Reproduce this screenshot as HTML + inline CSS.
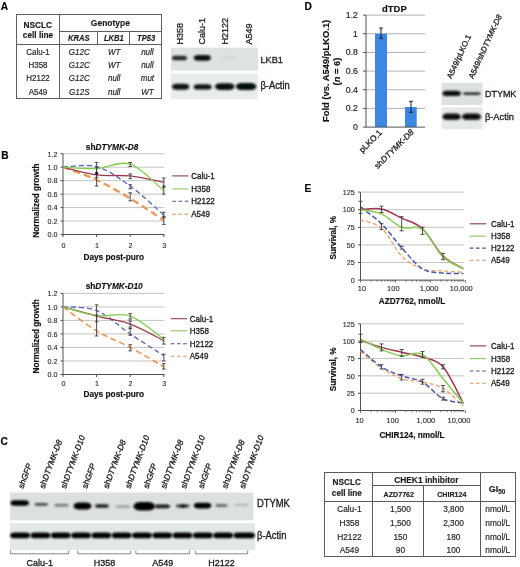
<!DOCTYPE html>
<html><head><meta charset="utf-8"><title>Figure</title>
<style>
html,body{margin:0;padding:0;background:#fff;width:520px;height:567px;overflow:hidden;}
svg{display:block;filter:blur(0.35px);}
text{font-family:"Liberation Sans", Arial, Helvetica, sans-serif;}
</style></head><body>
<svg width="520" height="567" viewBox="0 0 520 567">
<defs>
<filter id="b8" x="-30%" y="-100%" width="160%" height="300%"><feGaussianBlur stdDeviation="0.8"/></filter>
<filter id="b5" x="-30%" y="-100%" width="160%" height="300%"><feGaussianBlur stdDeviation="0.5"/></filter>
<filter id="b12" x="-30%" y="-100%" width="160%" height="300%"><feGaussianBlur stdDeviation="1.2"/></filter>
</defs>
<rect width="520" height="567" fill="#fff"/>
<text x="0.80" y="9.30" font-size="10.2" font-weight="bold" fill="#000" stroke="#000" stroke-width="0.15" transform="matrix(1 0 0 1.07 0 -0.394)">A</text>
<text x="1.20" y="158.90" font-size="10.2" font-weight="bold" fill="#000" stroke="#000" stroke-width="0.15" transform="matrix(1 0 0 1.07 0 -10.866)">B</text>
<text x="0.60" y="444.70" font-size="10.2" font-weight="bold" fill="#000" stroke="#000" stroke-width="0.15" transform="matrix(1 0 0 1.07 0 -30.872)">C</text>
<text x="304.50" y="9.60" font-size="10.2" font-weight="bold" fill="#000" stroke="#000" stroke-width="0.15" transform="matrix(1 0 0 1.07 0 -0.415)">D</text>
<text x="304.50" y="191.40" font-size="10.2" font-weight="bold" fill="#000" stroke="#000" stroke-width="0.15" transform="matrix(1 0 0 1.07 0 -13.141)">E</text>
<rect x="16.5" y="14.5" width="145" height="84" fill="none" stroke="#5e5e5e" stroke-width="1"/>
<line x1="59.50" y1="14.50" x2="59.50" y2="98.50" stroke="#5e5e5e" stroke-width="1" />
<line x1="59.50" y1="31.50" x2="161.50" y2="31.50" stroke="#5e5e5e" stroke-width="1" />
<line x1="16.50" y1="44.50" x2="161.50" y2="44.50" stroke="#5e5e5e" stroke-width="1" />
<line x1="97.50" y1="31.50" x2="97.50" y2="44.50" stroke="#5e5e5e" stroke-width="1" />
<line x1="129.50" y1="31.50" x2="129.50" y2="44.50" stroke="#5e5e5e" stroke-width="1" />
<text x="37.80" y="27.80" font-size="8.3" font-weight="bold" text-anchor="middle" fill="#1c1c1c" stroke="#1c1c1c" stroke-width="0.15" transform="matrix(1 0 0 1.07 0 -1.737)">NSCLC</text>
<text x="38.00" y="38.00" font-size="8.3" font-weight="bold" text-anchor="middle" fill="#1c1c1c" stroke="#1c1c1c" stroke-width="0.15" transform="matrix(1 0 0 1.07 0 -2.451)">cell line</text>
<text x="110.40" y="26.10" font-size="8.5" font-weight="bold" text-anchor="middle" fill="#1c1c1c" stroke="#1c1c1c" stroke-width="0.15" transform="matrix(1 0 0 1.07 0 -1.613)">Genotype</text>
<text x="78.70" y="40.80" font-size="7.6" font-weight="bold" font-style="italic" text-anchor="middle" fill="#1c1c1c" stroke="#1c1c1c" stroke-width="0.15" transform="matrix(1 0 0 1.07 0 -2.664)">KRAS</text>
<text x="113.80" y="40.80" font-size="7.6" font-weight="bold" font-style="italic" text-anchor="middle" fill="#1c1c1c" stroke="#1c1c1c" stroke-width="0.15" transform="matrix(1 0 0 1.07 0 -2.664)">LKB1</text>
<text x="146.20" y="40.80" font-size="7.6" font-weight="bold" font-style="italic" text-anchor="middle" fill="#1c1c1c" stroke="#1c1c1c" stroke-width="0.15" transform="matrix(1 0 0 1.07 0 -2.664)">TP53</text>
<text x="38.00" y="54.70" font-size="8" text-anchor="middle" fill="#262626" stroke="#262626" stroke-width="0.18" transform="matrix(1 0 0 1.07 0 -3.627)">Calu-1</text>
<text x="79.30" y="54.70" font-size="8" font-style="italic" text-anchor="middle" fill="#262626" stroke="#262626" stroke-width="0.18" transform="matrix(1 0 0 1.07 0 -3.627)">G12C</text>
<text x="114.20" y="54.70" font-size="8" font-style="italic" text-anchor="middle" fill="#262626" stroke="#262626" stroke-width="0.18" transform="matrix(1 0 0 1.07 0 -3.627)">WT</text>
<text x="147.40" y="54.70" font-size="8" font-style="italic" text-anchor="middle" fill="#262626" stroke="#262626" stroke-width="0.18" transform="matrix(1 0 0 1.07 0 -3.627)">null</text>
<text x="38.00" y="67.90" font-size="8" text-anchor="middle" fill="#262626" stroke="#262626" stroke-width="0.18" transform="matrix(1 0 0 1.07 0 -4.551)">H358</text>
<text x="79.30" y="67.90" font-size="8" font-style="italic" text-anchor="middle" fill="#262626" stroke="#262626" stroke-width="0.18" transform="matrix(1 0 0 1.07 0 -4.551)">G12C</text>
<text x="114.20" y="67.90" font-size="8" font-style="italic" text-anchor="middle" fill="#262626" stroke="#262626" stroke-width="0.18" transform="matrix(1 0 0 1.07 0 -4.551)">WT</text>
<text x="147.40" y="67.90" font-size="8" font-style="italic" text-anchor="middle" fill="#262626" stroke="#262626" stroke-width="0.18" transform="matrix(1 0 0 1.07 0 -4.551)">null</text>
<text x="38.00" y="81.20" font-size="8" text-anchor="middle" fill="#262626" stroke="#262626" stroke-width="0.18" transform="matrix(1 0 0 1.07 0 -5.482)">H2122</text>
<text x="79.30" y="81.20" font-size="8" font-style="italic" text-anchor="middle" fill="#262626" stroke="#262626" stroke-width="0.18" transform="matrix(1 0 0 1.07 0 -5.482)">G12C</text>
<text x="114.20" y="81.20" font-size="8" font-style="italic" text-anchor="middle" fill="#262626" stroke="#262626" stroke-width="0.18" transform="matrix(1 0 0 1.07 0 -5.482)">null</text>
<text x="147.40" y="81.20" font-size="8" font-style="italic" text-anchor="middle" fill="#262626" stroke="#262626" stroke-width="0.18" transform="matrix(1 0 0 1.07 0 -5.482)">mut</text>
<text x="38.00" y="94.60" font-size="8" text-anchor="middle" fill="#262626" stroke="#262626" stroke-width="0.18" transform="matrix(1 0 0 1.07 0 -6.420)">A549</text>
<text x="79.30" y="94.60" font-size="8" font-style="italic" text-anchor="middle" fill="#262626" stroke="#262626" stroke-width="0.18" transform="matrix(1 0 0 1.07 0 -6.420)">G12S</text>
<text x="114.20" y="94.60" font-size="8" font-style="italic" text-anchor="middle" fill="#262626" stroke="#262626" stroke-width="0.18" transform="matrix(1 0 0 1.07 0 -6.420)">null</text>
<text x="147.40" y="94.60" font-size="8" font-style="italic" text-anchor="middle" fill="#262626" stroke="#262626" stroke-width="0.18" transform="matrix(1 0 0 1.07 0 -6.420)">WT</text>
<text x="182.90" y="44.50" font-size="9.0" fill="#1c1c1c" stroke="#1c1c1c" stroke-width="0.3" transform="rotate(-90 182.90 44.50)">H358</text>
<text x="204.50" y="44.50" font-size="9.0" fill="#1c1c1c" stroke="#1c1c1c" stroke-width="0.3" transform="rotate(-90 204.50 44.50)">Calu-1</text>
<text x="228.40" y="44.50" font-size="9.0" fill="#1c1c1c" stroke="#1c1c1c" stroke-width="0.3" transform="rotate(-90 228.40 44.50)">H2122</text>
<text x="252.30" y="44.50" font-size="9.0" fill="#1c1c1c" stroke="#1c1c1c" stroke-width="0.3" transform="rotate(-90 252.30 44.50)">A549</text>
<rect x="171.00" y="47.60" width="87.00" height="23.00" fill="#dde3e1" />
<rect x="171.00" y="73.60" width="87.00" height="25.40" fill="#e8edeb" />
<rect x="172.00" y="55.70" width="15.00" height="4.60" rx="3.68" ry="2.30" fill="#151515" fill-opacity="0.92" filter="url(#b8)"/>
<rect x="193.80" y="54.90" width="17.00" height="5.80" rx="4.64" ry="2.90" fill="#0a0a0a" fill-opacity="1.0" filter="url(#b8)"/>
<rect x="222.00" y="56.50" width="14.00" height="3.00" rx="2.40" ry="1.50" fill="#888" fill-opacity="0.15" filter="url(#b8)"/>
<rect x="172.00" y="83.80" width="17.30" height="6.00" rx="4.80" ry="3.00" fill="#0e1414" fill-opacity="1.0" filter="url(#b8)"/>
<rect x="193.70" y="84.30" width="17.90" height="5.20" rx="4.16" ry="2.60" fill="#101616" fill-opacity="1.0" filter="url(#b8)"/>
<rect x="215.00" y="83.30" width="19.50" height="6.60" rx="5.28" ry="3.30" fill="#081010" fill-opacity="1.0" filter="url(#b8)"/>
<rect x="235.90" y="83.10" width="20.40" height="6.80" rx="5.44" ry="3.40" fill="#050c0c" fill-opacity="1.0" filter="url(#b8)"/>
<text x="260.40" y="63.20" font-size="9.2" fill="#1c1c1c" stroke="#1c1c1c" stroke-width="0.3" transform="matrix(1 0 0 1.07 0 -4.192)">LKB1</text>
<text x="260.40" y="88.80" font-size="9.4" fill="#1c1c1c" stroke="#1c1c1c" stroke-width="0.3" transform="matrix(1 0 0 1.07 0 -5.979)">β-Actin</text>
<line x1="366.00" y1="108.43" x2="425.20" y2="108.43" stroke="#b2b2b2" stroke-width="1" />
<line x1="366.00" y1="89.77" x2="425.20" y2="89.77" stroke="#b2b2b2" stroke-width="1" />
<line x1="366.00" y1="71.10" x2="425.20" y2="71.10" stroke="#b2b2b2" stroke-width="1" />
<line x1="366.00" y1="52.44" x2="425.20" y2="52.44" stroke="#b2b2b2" stroke-width="1" />
<line x1="366.00" y1="33.77" x2="425.20" y2="33.77" stroke="#b2b2b2" stroke-width="1" />
<line x1="366.00" y1="15.10" x2="425.20" y2="15.10" stroke="#b2b2b2" stroke-width="1" />
<rect x="375.00" y="33.77" width="12.00" height="93.33" fill="#3d87e4" />
<rect x="405.00" y="107.03" width="11.70" height="20.07" fill="#3d87e4" />
<line x1="366.00" y1="127.10" x2="425.20" y2="127.10" stroke="#505050" stroke-width="1" />
<line x1="366.00" y1="15.10" x2="366.00" y2="127.10" stroke="#505050" stroke-width="1" />
<line x1="363.00" y1="127.10" x2="366.00" y2="127.10" stroke="#505050" stroke-width="1" />
<text x="358.00" y="129.70" font-size="8.8" text-anchor="end" fill="#1c1c1c" stroke="#1c1c1c" stroke-width="0.15" transform="matrix(1 0 0 1.07 0 -8.857)">0</text>
<line x1="363.00" y1="108.43" x2="366.00" y2="108.43" stroke="#505050" stroke-width="1" />
<text x="358.00" y="111.03" font-size="8.8" text-anchor="end" fill="#1c1c1c" stroke="#1c1c1c" stroke-width="0.15" transform="matrix(1 0 0 1.07 0 -7.551)">0.2</text>
<line x1="363.00" y1="89.77" x2="366.00" y2="89.77" stroke="#505050" stroke-width="1" />
<text x="358.00" y="92.37" font-size="8.8" text-anchor="end" fill="#1c1c1c" stroke="#1c1c1c" stroke-width="0.15" transform="matrix(1 0 0 1.07 0 -6.244)">0.4</text>
<line x1="363.00" y1="71.10" x2="366.00" y2="71.10" stroke="#505050" stroke-width="1" />
<text x="358.00" y="73.70" font-size="8.8" text-anchor="end" fill="#1c1c1c" stroke="#1c1c1c" stroke-width="0.15" transform="matrix(1 0 0 1.07 0 -4.937)">0.6</text>
<line x1="363.00" y1="52.44" x2="366.00" y2="52.44" stroke="#505050" stroke-width="1" />
<text x="358.00" y="55.04" font-size="8.8" text-anchor="end" fill="#1c1c1c" stroke="#1c1c1c" stroke-width="0.15" transform="matrix(1 0 0 1.07 0 -3.631)">0.8</text>
<line x1="363.00" y1="33.77" x2="366.00" y2="33.77" stroke="#505050" stroke-width="1" />
<text x="358.00" y="36.37" font-size="8.8" text-anchor="end" fill="#1c1c1c" stroke="#1c1c1c" stroke-width="0.15" transform="matrix(1 0 0 1.07 0 -2.324)">1</text>
<line x1="363.00" y1="15.10" x2="366.00" y2="15.10" stroke="#505050" stroke-width="1" />
<text x="358.00" y="17.70" font-size="8.8" text-anchor="end" fill="#1c1c1c" stroke="#1c1c1c" stroke-width="0.15" transform="matrix(1 0 0 1.07 0 -1.018)">1.2</text>
<line x1="381.00" y1="28.00" x2="381.00" y2="38.40" stroke="#1e1e1e" stroke-width="1.0" />
<line x1="379.10" y1="28.00" x2="382.90" y2="28.00" stroke="#1e1e1e" stroke-width="1.0" />
<line x1="379.10" y1="38.40" x2="382.90" y2="38.40" stroke="#1e1e1e" stroke-width="1.0" />
<line x1="411.00" y1="101.30" x2="411.00" y2="112.30" stroke="#1e1e1e" stroke-width="1.0" />
<line x1="409.10" y1="101.30" x2="412.90" y2="101.30" stroke="#1e1e1e" stroke-width="1.0" />
<line x1="409.10" y1="112.30" x2="412.90" y2="112.30" stroke="#1e1e1e" stroke-width="1.0" />
<text x="394.40" y="11.80" font-size="8.8" font-weight="bold" text-anchor="middle" fill="#111" stroke="#111" stroke-width="0.15" textLength="24.6" lengthAdjust="spacingAndGlyphs">dTDP</text>
<text x="328.90" y="70.90" font-size="9.4" font-weight="bold" text-anchor="middle" fill="#111" stroke="#111" stroke-width="0.15" transform="rotate(-90 328.90 70.90)">Fold (vs. A549/pLKO.1)</text>
<text x="339.90" y="71.50" font-size="9.4" font-weight="bold" text-anchor="middle" fill="#111" stroke="#111" stroke-width="0.15" transform="rotate(-90 339.90 71.50)">(<tspan font-style="italic">n</tspan> = 6)</text>
<text x="382.60" y="133.20" font-size="8.4" text-anchor="end" fill="#1c1c1c" stroke="#1c1c1c" stroke-width="0.3" transform="rotate(-45 382.60 133.20)">pLKO.1</text>
<text x="414.40" y="132.80" font-size="8.4" text-anchor="end" fill="#1c1c1c" stroke="#1c1c1c" stroke-width="0.3" transform="rotate(-45 414.40 132.80)">sh<tspan font-style="italic">DTYMK-D8</tspan></text>
<text x="451.60" y="79.30" font-size="7.9" fill="#1c1c1c" stroke="#1c1c1c" stroke-width="0.3" transform="rotate(-65.5 451.60 79.30)">A549/pLKO.1</text>
<text x="473.30" y="79.30" font-size="7.9" fill="#1c1c1c" stroke="#1c1c1c" stroke-width="0.3" transform="rotate(-65.5 473.30 79.30)">A549/sh<tspan font-style="italic">DTYMK-D8</tspan></text>
<rect x="441.50" y="82.80" width="41.00" height="22.20" fill="#dce2e0" />
<rect x="441.50" y="107.40" width="41.00" height="22.00" fill="#e4e9e7" />
<rect x="442.50" y="90.70" width="18.30" height="5.20" rx="4.16" ry="2.60" fill="#080808" fill-opacity="1.0" filter="url(#b8)"/>
<rect x="463.00" y="92.50" width="17.50" height="2.20" rx="1.76" ry="1.10" fill="#0a0a0a" fill-opacity="0.95" filter="url(#b8)"/>
<rect x="442.50" y="113.60" width="18.30" height="6.20" rx="4.96" ry="3.10" fill="#080808" fill-opacity="1.0" filter="url(#b8)"/>
<rect x="462.00" y="113.60" width="19.00" height="6.20" rx="4.96" ry="3.10" fill="#080808" fill-opacity="1.0" filter="url(#b8)"/>
<text x="484.90" y="96.80" font-size="9" fill="#1c1c1c" stroke="#1c1c1c" stroke-width="0.3" transform="matrix(1 0 0 1.07 0 -6.549)">DTYMK</text>
<text x="484.90" y="120.00" font-size="9.3" fill="#1c1c1c" stroke="#1c1c1c" stroke-width="0.3" transform="matrix(1 0 0 1.07 0 -8.166)">β-Actin</text>
<line x1="63.00" y1="221.04" x2="164.50" y2="221.04" stroke="#c4c4c4" stroke-width="1" />
<line x1="63.00" y1="207.58" x2="164.50" y2="207.58" stroke="#c4c4c4" stroke-width="1" />
<line x1="63.00" y1="194.12" x2="164.50" y2="194.12" stroke="#c4c4c4" stroke-width="1" />
<line x1="63.00" y1="180.66" x2="164.50" y2="180.66" stroke="#c4c4c4" stroke-width="1" />
<line x1="63.00" y1="167.20" x2="164.50" y2="167.20" stroke="#c4c4c4" stroke-width="1" />
<line x1="63.00" y1="153.74" x2="164.50" y2="153.74" stroke="#c4c4c4" stroke-width="1" />
<line x1="63.00" y1="234.50" x2="164.50" y2="234.50" stroke="#505050" stroke-width="1" />
<line x1="63.00" y1="153.74" x2="63.00" y2="234.50" stroke="#505050" stroke-width="1" />
<line x1="60.50" y1="234.50" x2="63.00" y2="234.50" stroke="#505050" stroke-width="1" />
<text x="57.40" y="237.10" font-size="7.2" text-anchor="end" fill="#262626" stroke="#262626" stroke-width="0.1" transform="matrix(1 0 0 1.07 0 -16.416)">0.0</text>
<line x1="60.50" y1="221.04" x2="63.00" y2="221.04" stroke="#505050" stroke-width="1" />
<text x="57.40" y="223.64" font-size="7.2" text-anchor="end" fill="#262626" stroke="#262626" stroke-width="0.1" transform="matrix(1 0 0 1.07 0 -15.473)">0.2</text>
<line x1="60.50" y1="207.58" x2="63.00" y2="207.58" stroke="#505050" stroke-width="1" />
<text x="57.40" y="210.18" font-size="7.2" text-anchor="end" fill="#262626" stroke="#262626" stroke-width="0.1" transform="matrix(1 0 0 1.07 0 -14.531)">0.4</text>
<line x1="60.50" y1="194.12" x2="63.00" y2="194.12" stroke="#505050" stroke-width="1" />
<text x="57.40" y="196.72" font-size="7.2" text-anchor="end" fill="#262626" stroke="#262626" stroke-width="0.1" transform="matrix(1 0 0 1.07 0 -13.589)">0.6</text>
<line x1="60.50" y1="180.66" x2="63.00" y2="180.66" stroke="#505050" stroke-width="1" />
<text x="57.40" y="183.26" font-size="7.2" text-anchor="end" fill="#262626" stroke="#262626" stroke-width="0.1" transform="matrix(1 0 0 1.07 0 -12.647)">0.8</text>
<line x1="60.50" y1="167.20" x2="63.00" y2="167.20" stroke="#505050" stroke-width="1" />
<text x="57.40" y="169.80" font-size="7.2" text-anchor="end" fill="#262626" stroke="#262626" stroke-width="0.1" transform="matrix(1 0 0 1.07 0 -11.705)">1.0</text>
<line x1="60.50" y1="153.74" x2="63.00" y2="153.74" stroke="#505050" stroke-width="1" />
<text x="57.40" y="156.34" font-size="7.2" text-anchor="end" fill="#262626" stroke="#262626" stroke-width="0.1" transform="matrix(1 0 0 1.07 0 -10.762)">1.2</text>
<line x1="63.00" y1="234.50" x2="63.00" y2="237.00" stroke="#505050" stroke-width="1" />
<text x="63.40" y="247.50" font-size="7.2" text-anchor="middle" fill="#262626" stroke="#262626" stroke-width="0.1" transform="matrix(1 0 0 1.07 0 -17.144)">0</text>
<line x1="96.60" y1="234.50" x2="96.60" y2="237.00" stroke="#505050" stroke-width="1" />
<text x="97.00" y="247.50" font-size="7.2" text-anchor="middle" fill="#262626" stroke="#262626" stroke-width="0.1" transform="matrix(1 0 0 1.07 0 -17.144)">1</text>
<line x1="130.20" y1="234.50" x2="130.20" y2="237.00" stroke="#505050" stroke-width="1" />
<text x="130.60" y="247.50" font-size="7.2" text-anchor="middle" fill="#262626" stroke="#262626" stroke-width="0.1" transform="matrix(1 0 0 1.07 0 -17.144)">2</text>
<line x1="163.80" y1="234.50" x2="163.80" y2="237.00" stroke="#505050" stroke-width="1" />
<text x="164.20" y="247.50" font-size="7.2" text-anchor="middle" fill="#262626" stroke="#262626" stroke-width="0.1" transform="matrix(1 0 0 1.07 0 -17.144)">3</text>
<text x="113.80" y="260.10" font-size="8.3" font-weight="bold" text-anchor="middle" fill="#111" stroke="#111" stroke-width="0.15" transform="matrix(1 0 0 1.07 0 -17.998)">Days post-puro</text>
<text x="39.30" y="200.50" font-size="8.25" font-weight="bold" text-anchor="middle" fill="#111" stroke="#111" stroke-width="0.15" transform="rotate(-90 39.30 200.50)">Normalized growth</text>
<text x="112.10" y="149.54" font-size="8.3" font-weight="bold" text-anchor="middle" fill="#111" stroke="#111" stroke-width="0.15" transform="matrix(1 0 0 1.07 0 -10.259)">sh<tspan font-style="italic">DTYMK-D8</tspan></text>
<path d="M63.00,167.20 C68.60,169.33 85.40,174.77 96.60,179.99 C107.80,185.20 119.00,191.76 130.20,198.49 C141.40,205.22 158.20,216.72 163.80,220.37" fill="none" stroke="#ec9650" stroke-width="2.2" stroke-dasharray="7,4" stroke-linejoin="round" />
<path d="M63.00,167.20 C68.60,167.09 85.40,163.39 96.60,166.53 C107.80,169.67 119.00,177.97 130.20,186.04 C141.40,194.12 158.20,210.16 163.80,214.98" fill="none" stroke="#5563c4" stroke-width="1.3" stroke-dasharray="5,3" stroke-linejoin="round" />
<path d="M63.00,167.20 C68.60,168.49 85.40,173.48 96.60,174.94 C107.80,176.40 119.00,174.72 130.20,175.95 C141.40,177.18 158.20,181.28 163.80,182.34" fill="none" stroke="#9b3b4e" stroke-width="1.3" stroke-linejoin="round" />
<path d="M63.00,167.20 C68.60,167.42 85.40,169.05 96.60,168.55 C107.80,168.04 119.00,160.47 130.20,164.17 C141.40,167.87 158.20,186.32 163.80,190.75" fill="none" stroke="#86cc4c" stroke-width="1.3" stroke-linejoin="round" />
<line x1="96.60" y1="162.49" x2="96.60" y2="186.04" stroke="#3a3a3a" stroke-width="0.9" />
<line x1="94.80" y1="162.49" x2="98.40" y2="162.49" stroke="#3a3a3a" stroke-width="0.9" />
<line x1="94.80" y1="186.04" x2="98.40" y2="186.04" stroke="#3a3a3a" stroke-width="0.9" />
<line x1="96.60" y1="167.20" x2="96.60" y2="177.30" stroke="#3a3a3a" stroke-width="0.9" />
<line x1="94.80" y1="167.20" x2="98.40" y2="167.20" stroke="#3a3a3a" stroke-width="0.9" />
<line x1="94.80" y1="177.30" x2="98.40" y2="177.30" stroke="#3a3a3a" stroke-width="0.9" />
<line x1="130.20" y1="173.93" x2="130.20" y2="178.64" stroke="#3a3a3a" stroke-width="0.9" />
<line x1="128.40" y1="173.93" x2="132.00" y2="173.93" stroke="#3a3a3a" stroke-width="0.9" />
<line x1="128.40" y1="178.64" x2="132.00" y2="178.64" stroke="#3a3a3a" stroke-width="0.9" />
<line x1="130.20" y1="162.49" x2="130.20" y2="166.53" stroke="#3a3a3a" stroke-width="0.9" />
<line x1="128.40" y1="162.49" x2="132.00" y2="162.49" stroke="#3a3a3a" stroke-width="0.9" />
<line x1="128.40" y1="166.53" x2="132.00" y2="166.53" stroke="#3a3a3a" stroke-width="0.9" />
<line x1="130.20" y1="192.77" x2="130.20" y2="200.85" stroke="#3a3a3a" stroke-width="0.9" />
<line x1="128.40" y1="192.77" x2="132.00" y2="192.77" stroke="#3a3a3a" stroke-width="0.9" />
<line x1="128.40" y1="200.85" x2="132.00" y2="200.85" stroke="#3a3a3a" stroke-width="0.9" />
<line x1="130.20" y1="184.70" x2="130.20" y2="188.74" stroke="#3a3a3a" stroke-width="0.9" />
<line x1="128.40" y1="184.70" x2="132.00" y2="184.70" stroke="#3a3a3a" stroke-width="0.9" />
<line x1="128.40" y1="188.74" x2="132.00" y2="188.74" stroke="#3a3a3a" stroke-width="0.9" />
<line x1="163.80" y1="177.97" x2="163.80" y2="187.39" stroke="#3a3a3a" stroke-width="0.9" />
<line x1="162.00" y1="177.97" x2="165.60" y2="177.97" stroke="#3a3a3a" stroke-width="0.9" />
<line x1="162.00" y1="187.39" x2="165.60" y2="187.39" stroke="#3a3a3a" stroke-width="0.9" />
<line x1="163.80" y1="186.04" x2="163.80" y2="194.12" stroke="#3a3a3a" stroke-width="0.9" />
<line x1="162.00" y1="186.04" x2="165.60" y2="186.04" stroke="#3a3a3a" stroke-width="0.9" />
<line x1="162.00" y1="194.12" x2="165.60" y2="194.12" stroke="#3a3a3a" stroke-width="0.9" />
<line x1="163.80" y1="212.29" x2="163.80" y2="217.68" stroke="#3a3a3a" stroke-width="0.9" />
<line x1="162.00" y1="212.29" x2="165.60" y2="212.29" stroke="#3a3a3a" stroke-width="0.9" />
<line x1="162.00" y1="217.68" x2="165.60" y2="217.68" stroke="#3a3a3a" stroke-width="0.9" />
<line x1="163.80" y1="216.33" x2="163.80" y2="224.41" stroke="#3a3a3a" stroke-width="0.9" />
<line x1="162.00" y1="216.33" x2="165.60" y2="216.33" stroke="#3a3a3a" stroke-width="0.9" />
<line x1="162.00" y1="224.41" x2="165.60" y2="224.41" stroke="#3a3a3a" stroke-width="0.9" />
<circle cx="96.60" cy="173.26" r="1.6" fill="#1a1a1a"/>
<line x1="172.30" y1="175.90" x2="188.50" y2="175.90" stroke="#8e3a52" stroke-width="1.1" />
<text x="191.30" y="178.80" font-size="8" fill="#1c1c1c" stroke="#1c1c1c" stroke-width="0.3" transform="matrix(1 0 0 1.07 0 -12.314)">Calu-1</text>
<line x1="172.30" y1="188.90" x2="188.50" y2="188.90" stroke="#88cc58" stroke-width="1.1" />
<text x="191.30" y="191.80" font-size="8" fill="#1c1c1c" stroke="#1c1c1c" stroke-width="0.3" transform="matrix(1 0 0 1.07 0 -13.224)">H358</text>
<line x1="172.30" y1="201.30" x2="188.50" y2="201.30" stroke="#4a4f96" stroke-width="1.1" stroke-dasharray="3.6,2.6"/>
<text x="191.30" y="204.20" font-size="8" fill="#1c1c1c" stroke="#1c1c1c" stroke-width="0.3" transform="matrix(1 0 0 1.07 0 -14.092)">H2122</text>
<line x1="172.30" y1="214.30" x2="188.50" y2="214.30" stroke="#d8955c" stroke-width="1.1" stroke-dasharray="3.6,2.6"/>
<text x="191.30" y="217.20" font-size="8" fill="#1c1c1c" stroke="#1c1c1c" stroke-width="0.3" transform="matrix(1 0 0 1.07 0 -15.002)">A549</text>
<line x1="63.00" y1="360.98" x2="164.50" y2="360.98" stroke="#c4c4c4" stroke-width="1" />
<line x1="63.00" y1="347.46" x2="164.50" y2="347.46" stroke="#c4c4c4" stroke-width="1" />
<line x1="63.00" y1="333.94" x2="164.50" y2="333.94" stroke="#c4c4c4" stroke-width="1" />
<line x1="63.00" y1="320.42" x2="164.50" y2="320.42" stroke="#c4c4c4" stroke-width="1" />
<line x1="63.00" y1="306.90" x2="164.50" y2="306.90" stroke="#c4c4c4" stroke-width="1" />
<line x1="63.00" y1="293.38" x2="164.50" y2="293.38" stroke="#c4c4c4" stroke-width="1" />
<line x1="63.00" y1="374.50" x2="164.50" y2="374.50" stroke="#505050" stroke-width="1" />
<line x1="63.00" y1="293.38" x2="63.00" y2="374.50" stroke="#505050" stroke-width="1" />
<line x1="60.50" y1="374.50" x2="63.00" y2="374.50" stroke="#505050" stroke-width="1" />
<text x="57.40" y="377.10" font-size="7.2" text-anchor="end" fill="#262626" stroke="#262626" stroke-width="0.1" transform="matrix(1 0 0 1.07 0 -26.216)">0.0</text>
<line x1="60.50" y1="360.98" x2="63.00" y2="360.98" stroke="#505050" stroke-width="1" />
<text x="57.40" y="363.58" font-size="7.2" text-anchor="end" fill="#262626" stroke="#262626" stroke-width="0.1" transform="matrix(1 0 0 1.07 0 -25.269)">0.2</text>
<line x1="60.50" y1="347.46" x2="63.00" y2="347.46" stroke="#505050" stroke-width="1" />
<text x="57.40" y="350.06" font-size="7.2" text-anchor="end" fill="#262626" stroke="#262626" stroke-width="0.1" transform="matrix(1 0 0 1.07 0 -24.323)">0.4</text>
<line x1="60.50" y1="333.94" x2="63.00" y2="333.94" stroke="#505050" stroke-width="1" />
<text x="57.40" y="336.54" font-size="7.2" text-anchor="end" fill="#262626" stroke="#262626" stroke-width="0.1" transform="matrix(1 0 0 1.07 0 -23.376)">0.6</text>
<line x1="60.50" y1="320.42" x2="63.00" y2="320.42" stroke="#505050" stroke-width="1" />
<text x="57.40" y="323.02" font-size="7.2" text-anchor="end" fill="#262626" stroke="#262626" stroke-width="0.1" transform="matrix(1 0 0 1.07 0 -22.430)">0.8</text>
<line x1="60.50" y1="306.90" x2="63.00" y2="306.90" stroke="#505050" stroke-width="1" />
<text x="57.40" y="309.50" font-size="7.2" text-anchor="end" fill="#262626" stroke="#262626" stroke-width="0.1" transform="matrix(1 0 0 1.07 0 -21.484)">1.0</text>
<line x1="60.50" y1="293.38" x2="63.00" y2="293.38" stroke="#505050" stroke-width="1" />
<text x="57.40" y="295.98" font-size="7.2" text-anchor="end" fill="#262626" stroke="#262626" stroke-width="0.1" transform="matrix(1 0 0 1.07 0 -20.537)">1.2</text>
<line x1="63.00" y1="374.50" x2="63.00" y2="377.00" stroke="#505050" stroke-width="1" />
<text x="63.40" y="385.90" font-size="7.2" text-anchor="middle" fill="#262626" stroke="#262626" stroke-width="0.1" transform="matrix(1 0 0 1.07 0 -26.832)">0</text>
<line x1="96.60" y1="374.50" x2="96.60" y2="377.00" stroke="#505050" stroke-width="1" />
<text x="97.00" y="385.90" font-size="7.2" text-anchor="middle" fill="#262626" stroke="#262626" stroke-width="0.1" transform="matrix(1 0 0 1.07 0 -26.832)">1</text>
<line x1="130.20" y1="374.50" x2="130.20" y2="377.00" stroke="#505050" stroke-width="1" />
<text x="130.60" y="385.90" font-size="7.2" text-anchor="middle" fill="#262626" stroke="#262626" stroke-width="0.1" transform="matrix(1 0 0 1.07 0 -26.832)">2</text>
<line x1="163.80" y1="374.50" x2="163.80" y2="377.00" stroke="#505050" stroke-width="1" />
<text x="164.20" y="385.90" font-size="7.2" text-anchor="middle" fill="#262626" stroke="#262626" stroke-width="0.1" transform="matrix(1 0 0 1.07 0 -26.832)">3</text>
<text x="113.80" y="396.60" font-size="8.3" font-weight="bold" text-anchor="middle" fill="#111" stroke="#111" stroke-width="0.15" transform="matrix(1 0 0 1.07 0 -27.553)">Days post-puro</text>
<text x="39.30" y="336.30" font-size="8.25" font-weight="bold" text-anchor="middle" fill="#111" stroke="#111" stroke-width="0.15" transform="rotate(-90 39.30 336.30)">Normalized growth</text>
<text x="114.20" y="289.18" font-size="8.3" font-weight="bold" text-anchor="middle" fill="#111" stroke="#111" stroke-width="0.15" transform="matrix(1 0 0 1.07 0 -20.033)">sh<tspan font-style="italic">DTYMK-D10</tspan></text>
<path d="M63.00,306.90 C68.60,310.90 85.40,324.14 96.60,330.90 C107.80,337.66 119.00,341.49 130.20,347.46 C141.40,353.43 158.20,363.51 163.80,366.73" fill="none" stroke="#ec9650" stroke-width="1.6" stroke-dasharray="6,3.5" stroke-linejoin="round" />
<path d="M63.00,306.90 C68.60,307.52 85.40,306.11 96.60,310.62 C107.80,315.12 119.00,326.45 130.20,333.94 C141.40,341.43 158.20,351.97 163.80,355.57" fill="none" stroke="#5563c4" stroke-width="1.3" stroke-dasharray="5,3" stroke-linejoin="round" />
<path d="M63.00,306.90 C68.60,308.42 85.40,313.15 96.60,316.03 C107.80,318.90 119.00,320.03 130.20,324.14 C141.40,328.25 158.20,337.94 163.80,340.70" fill="none" stroke="#9b3b4e" stroke-width="1.3" stroke-linejoin="round" />
<path d="M63.00,306.90 C68.60,308.36 85.40,314.17 96.60,315.69 C107.80,317.21 119.00,312.08 130.20,316.03 C141.40,319.97 158.20,335.46 163.80,339.35" fill="none" stroke="#86cc4c" stroke-width="1.3" stroke-linejoin="round" />
<line x1="96.60" y1="304.87" x2="96.60" y2="335.97" stroke="#3a3a3a" stroke-width="0.9" />
<line x1="94.80" y1="304.87" x2="98.40" y2="304.87" stroke="#3a3a3a" stroke-width="0.9" />
<line x1="94.80" y1="335.97" x2="98.40" y2="335.97" stroke="#3a3a3a" stroke-width="0.9" />
<line x1="96.60" y1="315.01" x2="96.60" y2="321.77" stroke="#3a3a3a" stroke-width="0.9" />
<line x1="94.80" y1="315.01" x2="98.40" y2="315.01" stroke="#3a3a3a" stroke-width="0.9" />
<line x1="94.80" y1="321.77" x2="98.40" y2="321.77" stroke="#3a3a3a" stroke-width="0.9" />
<line x1="130.20" y1="313.66" x2="130.20" y2="319.07" stroke="#3a3a3a" stroke-width="0.9" />
<line x1="128.40" y1="313.66" x2="132.00" y2="313.66" stroke="#3a3a3a" stroke-width="0.9" />
<line x1="128.40" y1="319.07" x2="132.00" y2="319.07" stroke="#3a3a3a" stroke-width="0.9" />
<line x1="130.20" y1="321.10" x2="130.20" y2="327.18" stroke="#3a3a3a" stroke-width="0.9" />
<line x1="128.40" y1="321.10" x2="132.00" y2="321.10" stroke="#3a3a3a" stroke-width="0.9" />
<line x1="128.40" y1="327.18" x2="132.00" y2="327.18" stroke="#3a3a3a" stroke-width="0.9" />
<line x1="130.20" y1="328.53" x2="130.20" y2="335.29" stroke="#3a3a3a" stroke-width="0.9" />
<line x1="128.40" y1="328.53" x2="132.00" y2="328.53" stroke="#3a3a3a" stroke-width="0.9" />
<line x1="128.40" y1="335.29" x2="132.00" y2="335.29" stroke="#3a3a3a" stroke-width="0.9" />
<line x1="130.20" y1="344.76" x2="130.20" y2="350.84" stroke="#3a3a3a" stroke-width="0.9" />
<line x1="128.40" y1="344.76" x2="132.00" y2="344.76" stroke="#3a3a3a" stroke-width="0.9" />
<line x1="128.40" y1="350.84" x2="132.00" y2="350.84" stroke="#3a3a3a" stroke-width="0.9" />
<line x1="163.80" y1="337.32" x2="163.80" y2="344.08" stroke="#3a3a3a" stroke-width="0.9" />
<line x1="162.00" y1="337.32" x2="165.60" y2="337.32" stroke="#3a3a3a" stroke-width="0.9" />
<line x1="162.00" y1="344.08" x2="165.60" y2="344.08" stroke="#3a3a3a" stroke-width="0.9" />
<line x1="163.80" y1="354.22" x2="163.80" y2="360.98" stroke="#3a3a3a" stroke-width="0.9" />
<line x1="162.00" y1="354.22" x2="165.60" y2="354.22" stroke="#3a3a3a" stroke-width="0.9" />
<line x1="162.00" y1="360.98" x2="165.60" y2="360.98" stroke="#3a3a3a" stroke-width="0.9" />
<line x1="163.80" y1="363.68" x2="163.80" y2="369.09" stroke="#3a3a3a" stroke-width="0.9" />
<line x1="162.00" y1="363.68" x2="165.60" y2="363.68" stroke="#3a3a3a" stroke-width="0.9" />
<line x1="162.00" y1="369.09" x2="165.60" y2="369.09" stroke="#3a3a3a" stroke-width="0.9" />
<line x1="170.80" y1="318.70" x2="187.00" y2="318.70" stroke="#8e3a52" stroke-width="1.1" />
<text x="189.80" y="321.60" font-size="8" fill="#1c1c1c" stroke="#1c1c1c" stroke-width="0.3" transform="matrix(1 0 0 1.07 0 -22.310)">Calu-1</text>
<line x1="170.80" y1="330.80" x2="187.00" y2="330.80" stroke="#88cc58" stroke-width="1.1" />
<text x="189.80" y="333.70" font-size="8" fill="#1c1c1c" stroke="#1c1c1c" stroke-width="0.3" transform="matrix(1 0 0 1.07 0 -23.157)">H358</text>
<line x1="170.80" y1="343.80" x2="187.00" y2="343.80" stroke="#4a4f96" stroke-width="1.1" stroke-dasharray="3.6,2.6"/>
<text x="189.80" y="346.70" font-size="8" fill="#1c1c1c" stroke="#1c1c1c" stroke-width="0.3" transform="matrix(1 0 0 1.07 0 -24.067)">H2122</text>
<line x1="170.80" y1="356.30" x2="187.00" y2="356.30" stroke="#d8955c" stroke-width="1.1" stroke-dasharray="3.6,2.6"/>
<text x="189.80" y="359.20" font-size="8" fill="#1c1c1c" stroke="#1c1c1c" stroke-width="0.3" transform="matrix(1 0 0 1.07 0 -24.942)">A549</text>
<line x1="360.50" y1="262.50" x2="464.00" y2="262.50" stroke="#c4c4c4" stroke-width="1" />
<line x1="360.50" y1="244.90" x2="464.00" y2="244.90" stroke="#c4c4c4" stroke-width="1" />
<line x1="360.50" y1="227.30" x2="464.00" y2="227.30" stroke="#c4c4c4" stroke-width="1" />
<line x1="360.50" y1="209.70" x2="464.00" y2="209.70" stroke="#c4c4c4" stroke-width="1" />
<line x1="360.50" y1="192.10" x2="464.00" y2="192.10" stroke="#c4c4c4" stroke-width="1" />
<line x1="360.50" y1="280.10" x2="464.00" y2="280.10" stroke="#505050" stroke-width="1" />
<line x1="360.50" y1="192.10" x2="360.50" y2="280.10" stroke="#505050" stroke-width="1" />
<line x1="358.00" y1="280.10" x2="360.50" y2="280.10" stroke="#505050" stroke-width="1" />
<text x="354.80" y="282.70" font-size="7.2" text-anchor="end" fill="#262626" stroke="#262626" stroke-width="0.1" transform="matrix(1 0 0 1.07 0 -19.608)">0</text>
<line x1="358.00" y1="262.50" x2="360.50" y2="262.50" stroke="#505050" stroke-width="1" />
<text x="354.80" y="265.10" font-size="7.2" text-anchor="end" fill="#262626" stroke="#262626" stroke-width="0.1" transform="matrix(1 0 0 1.07 0 -18.376)">25</text>
<line x1="358.00" y1="244.90" x2="360.50" y2="244.90" stroke="#505050" stroke-width="1" />
<text x="354.80" y="247.50" font-size="7.2" text-anchor="end" fill="#262626" stroke="#262626" stroke-width="0.1" transform="matrix(1 0 0 1.07 0 -17.144)">50</text>
<line x1="358.00" y1="227.30" x2="360.50" y2="227.30" stroke="#505050" stroke-width="1" />
<text x="354.80" y="229.90" font-size="7.2" text-anchor="end" fill="#262626" stroke="#262626" stroke-width="0.1" transform="matrix(1 0 0 1.07 0 -15.912)">75</text>
<line x1="358.00" y1="209.70" x2="360.50" y2="209.70" stroke="#505050" stroke-width="1" />
<text x="354.80" y="212.30" font-size="7.2" text-anchor="end" fill="#262626" stroke="#262626" stroke-width="0.1" transform="matrix(1 0 0 1.07 0 -14.680)">100</text>
<line x1="358.00" y1="192.10" x2="360.50" y2="192.10" stroke="#505050" stroke-width="1" />
<text x="354.80" y="194.70" font-size="7.2" text-anchor="end" fill="#262626" stroke="#262626" stroke-width="0.1" transform="matrix(1 0 0 1.07 0 -13.448)">125</text>
<line x1="360.50" y1="280.10" x2="360.50" y2="282.60" stroke="#505050" stroke-width="0.8" />
<line x1="371.04" y1="280.10" x2="371.04" y2="281.70" stroke="#505050" stroke-width="0.8" />
<line x1="377.20" y1="280.10" x2="377.20" y2="281.70" stroke="#505050" stroke-width="0.8" />
<line x1="381.57" y1="280.10" x2="381.57" y2="281.70" stroke="#505050" stroke-width="0.8" />
<line x1="384.96" y1="280.10" x2="384.96" y2="281.70" stroke="#505050" stroke-width="0.8" />
<line x1="387.74" y1="280.10" x2="387.74" y2="281.70" stroke="#505050" stroke-width="0.8" />
<line x1="390.08" y1="280.10" x2="390.08" y2="281.70" stroke="#505050" stroke-width="0.8" />
<line x1="392.11" y1="280.10" x2="392.11" y2="281.70" stroke="#505050" stroke-width="0.8" />
<line x1="393.90" y1="280.10" x2="393.90" y2="281.70" stroke="#505050" stroke-width="0.8" />
<line x1="395.50" y1="280.10" x2="395.50" y2="282.60" stroke="#505050" stroke-width="0.8" />
<line x1="406.04" y1="280.10" x2="406.04" y2="281.70" stroke="#505050" stroke-width="0.8" />
<line x1="412.20" y1="280.10" x2="412.20" y2="281.70" stroke="#505050" stroke-width="0.8" />
<line x1="416.57" y1="280.10" x2="416.57" y2="281.70" stroke="#505050" stroke-width="0.8" />
<line x1="419.96" y1="280.10" x2="419.96" y2="281.70" stroke="#505050" stroke-width="0.8" />
<line x1="422.74" y1="280.10" x2="422.74" y2="281.70" stroke="#505050" stroke-width="0.8" />
<line x1="425.08" y1="280.10" x2="425.08" y2="281.70" stroke="#505050" stroke-width="0.8" />
<line x1="427.11" y1="280.10" x2="427.11" y2="281.70" stroke="#505050" stroke-width="0.8" />
<line x1="428.90" y1="280.10" x2="428.90" y2="281.70" stroke="#505050" stroke-width="0.8" />
<line x1="430.50" y1="280.10" x2="430.50" y2="282.60" stroke="#505050" stroke-width="0.8" />
<line x1="441.04" y1="280.10" x2="441.04" y2="281.70" stroke="#505050" stroke-width="0.8" />
<line x1="447.20" y1="280.10" x2="447.20" y2="281.70" stroke="#505050" stroke-width="0.8" />
<line x1="451.57" y1="280.10" x2="451.57" y2="281.70" stroke="#505050" stroke-width="0.8" />
<line x1="454.96" y1="280.10" x2="454.96" y2="281.70" stroke="#505050" stroke-width="0.8" />
<line x1="457.74" y1="280.10" x2="457.74" y2="281.70" stroke="#505050" stroke-width="0.8" />
<line x1="460.08" y1="280.10" x2="460.08" y2="281.70" stroke="#505050" stroke-width="0.8" />
<line x1="462.11" y1="280.10" x2="462.11" y2="281.70" stroke="#505050" stroke-width="0.8" />
<line x1="463.90" y1="280.10" x2="463.90" y2="281.70" stroke="#505050" stroke-width="0.8" />
<line x1="465.50" y1="280.10" x2="465.50" y2="282.60" stroke="#505050" stroke-width="0.8" />
<text x="361.90" y="291.10" font-size="7.5" text-anchor="middle" fill="#262626" stroke="#262626" stroke-width="0.1" transform="matrix(1 0 0 1.07 0 -20.188)">10</text>
<text x="393.30" y="291.10" font-size="7.5" text-anchor="middle" fill="#262626" stroke="#262626" stroke-width="0.1" transform="matrix(1 0 0 1.07 0 -20.188)">100</text>
<text x="429.10" y="291.10" font-size="7.5" text-anchor="middle" fill="#262626" stroke="#262626" stroke-width="0.1" transform="matrix(1 0 0 1.07 0 -20.188)">1,000</text>
<text x="461.30" y="291.10" font-size="7.5" text-anchor="middle" fill="#262626" stroke="#262626" stroke-width="0.1" transform="matrix(1 0 0 1.07 0 -20.188)">10,000</text>
<text x="412.00" y="303.70" font-size="8.2" font-weight="bold" text-anchor="middle" fill="#111" stroke="#111" stroke-width="0.15" transform="matrix(1 0 0 1.07 0 -21.052)">AZD7762, nmol/L</text>
<text x="335.90" y="237.70" font-size="8.2" font-weight="bold" text-anchor="middle" fill="#111" stroke="#111" stroke-width="0.15" transform="rotate(-90 335.90 237.70)">Survival, %</text>
<path d="M360.50,220.26 C364.00,221.55 374.63,222.02 381.50,228.00 C388.37,233.99 394.87,249.36 401.70,256.16 C408.53,262.97 415.62,266.37 422.50,268.84 C429.38,271.30 436.17,270.36 443.00,270.95 C449.83,271.53 460.08,272.12 463.50,272.36" fill="none" stroke="#eea060" stroke-width="1.3" stroke-dasharray="4,2.5" stroke-linejoin="round" />
<path d="M360.50,206.88 C364.00,209.70 374.63,216.97 381.50,223.78 C388.37,230.59 394.87,240.21 401.70,247.72 C408.53,255.23 415.62,264.61 422.50,268.84 C429.38,273.06 436.17,272.30 443.00,273.06 C449.83,273.82 460.08,273.35 463.50,273.41" fill="none" stroke="#4a56ac" stroke-width="1.5" stroke-dasharray="5,2.5" stroke-linejoin="round" />
<path d="M360.50,209.70 C364.00,209.58 374.63,207.59 381.50,209.00 C388.37,210.40 394.87,214.86 401.70,218.15 C408.53,221.43 415.62,222.37 422.50,228.71 C429.38,235.04 436.17,249.48 443.00,256.16 C449.83,262.85 460.08,266.72 463.50,268.84" fill="none" stroke="#a0344e" stroke-width="1.5" stroke-linejoin="round" />
<path d="M360.50,209.70 C364.00,210.40 374.63,210.99 381.50,213.92 C388.37,216.86 394.87,224.72 401.70,227.30 C408.53,229.88 415.62,224.48 422.50,229.41 C429.38,234.34 436.17,250.30 443.00,256.87 C449.83,263.44 460.08,266.84 463.50,268.84" fill="none" stroke="#88cc50" stroke-width="1.5" stroke-linejoin="round" />
<line x1="360.50" y1="201.25" x2="360.50" y2="213.22" stroke="#3a3a3a" stroke-width="0.9" />
<line x1="358.50" y1="201.25" x2="362.50" y2="201.25" stroke="#3a3a3a" stroke-width="0.9" />
<line x1="358.50" y1="213.22" x2="362.50" y2="213.22" stroke="#3a3a3a" stroke-width="0.9" />
<line x1="381.50" y1="206.18" x2="381.50" y2="212.52" stroke="#3a3a3a" stroke-width="0.9" />
<line x1="379.50" y1="206.18" x2="383.50" y2="206.18" stroke="#3a3a3a" stroke-width="0.9" />
<line x1="379.50" y1="212.52" x2="383.50" y2="212.52" stroke="#3a3a3a" stroke-width="0.9" />
<line x1="381.50" y1="223.78" x2="381.50" y2="229.41" stroke="#3a3a3a" stroke-width="0.9" />
<line x1="379.50" y1="223.78" x2="383.50" y2="223.78" stroke="#3a3a3a" stroke-width="0.9" />
<line x1="379.50" y1="229.41" x2="383.50" y2="229.41" stroke="#3a3a3a" stroke-width="0.9" />
<line x1="401.70" y1="216.74" x2="401.70" y2="230.82" stroke="#3a3a3a" stroke-width="0.9" />
<line x1="399.70" y1="216.74" x2="403.70" y2="216.74" stroke="#3a3a3a" stroke-width="0.9" />
<line x1="399.70" y1="230.82" x2="403.70" y2="230.82" stroke="#3a3a3a" stroke-width="0.9" />
<line x1="422.50" y1="227.30" x2="422.50" y2="234.34" stroke="#3a3a3a" stroke-width="0.9" />
<line x1="420.50" y1="227.30" x2="424.50" y2="227.30" stroke="#3a3a3a" stroke-width="0.9" />
<line x1="420.50" y1="234.34" x2="424.50" y2="234.34" stroke="#3a3a3a" stroke-width="0.9" />
<line x1="443.00" y1="253.35" x2="443.00" y2="259.68" stroke="#3a3a3a" stroke-width="0.9" />
<line x1="441.00" y1="253.35" x2="445.00" y2="253.35" stroke="#3a3a3a" stroke-width="0.9" />
<line x1="441.00" y1="259.68" x2="445.00" y2="259.68" stroke="#3a3a3a" stroke-width="0.9" />
<line x1="401.70" y1="246.31" x2="401.70" y2="249.12" stroke="#3a3a3a" stroke-width="0.9" />
<line x1="399.70" y1="246.31" x2="403.70" y2="246.31" stroke="#3a3a3a" stroke-width="0.9" />
<line x1="399.70" y1="249.12" x2="403.70" y2="249.12" stroke="#3a3a3a" stroke-width="0.9" />
<line x1="469.80" y1="223.80" x2="486.20" y2="223.80" stroke="#8e3a52" stroke-width="1.1" />
<text x="491.00" y="226.70" font-size="8" fill="#1c1c1c" stroke="#1c1c1c" stroke-width="0.3" transform="matrix(1 0 0 1.07 0 -15.667)">Calu-1</text>
<line x1="469.80" y1="236.20" x2="486.20" y2="236.20" stroke="#88cc58" stroke-width="1.1" />
<text x="491.00" y="239.10" font-size="8" fill="#1c1c1c" stroke="#1c1c1c" stroke-width="0.3" transform="matrix(1 0 0 1.07 0 -16.535)">H358</text>
<line x1="469.80" y1="248.10" x2="486.20" y2="248.10" stroke="#4a4f96" stroke-width="1.1" stroke-dasharray="3.6,2.6"/>
<text x="491.00" y="251.00" font-size="8" fill="#1c1c1c" stroke="#1c1c1c" stroke-width="0.3" transform="matrix(1 0 0 1.07 0 -17.368)">H2122</text>
<line x1="469.80" y1="260.30" x2="486.20" y2="260.30" stroke="#d8955c" stroke-width="1.1" stroke-dasharray="3.6,2.6"/>
<text x="491.00" y="263.20" font-size="8" fill="#1c1c1c" stroke="#1c1c1c" stroke-width="0.3" transform="matrix(1 0 0 1.07 0 -18.222)">A549</text>
<line x1="360.50" y1="393.16" x2="464.00" y2="393.16" stroke="#c4c4c4" stroke-width="1" />
<line x1="360.50" y1="375.82" x2="464.00" y2="375.82" stroke="#c4c4c4" stroke-width="1" />
<line x1="360.50" y1="358.48" x2="464.00" y2="358.48" stroke="#c4c4c4" stroke-width="1" />
<line x1="360.50" y1="341.14" x2="464.00" y2="341.14" stroke="#c4c4c4" stroke-width="1" />
<line x1="360.50" y1="323.80" x2="464.00" y2="323.80" stroke="#c4c4c4" stroke-width="1" />
<line x1="360.50" y1="410.50" x2="464.00" y2="410.50" stroke="#505050" stroke-width="1" />
<line x1="360.50" y1="323.80" x2="360.50" y2="410.50" stroke="#505050" stroke-width="1" />
<line x1="358.00" y1="410.50" x2="360.50" y2="410.50" stroke="#505050" stroke-width="1" />
<text x="354.80" y="413.10" font-size="7.2" text-anchor="end" fill="#262626" stroke="#262626" stroke-width="0.1" transform="matrix(1 0 0 1.07 0 -28.736)">0</text>
<line x1="358.00" y1="393.16" x2="360.50" y2="393.16" stroke="#505050" stroke-width="1" />
<text x="354.80" y="395.76" font-size="7.2" text-anchor="end" fill="#262626" stroke="#262626" stroke-width="0.1" transform="matrix(1 0 0 1.07 0 -27.522)">25</text>
<line x1="358.00" y1="375.82" x2="360.50" y2="375.82" stroke="#505050" stroke-width="1" />
<text x="354.80" y="378.42" font-size="7.2" text-anchor="end" fill="#262626" stroke="#262626" stroke-width="0.1" transform="matrix(1 0 0 1.07 0 -26.308)">50</text>
<line x1="358.00" y1="358.48" x2="360.50" y2="358.48" stroke="#505050" stroke-width="1" />
<text x="354.80" y="361.08" font-size="7.2" text-anchor="end" fill="#262626" stroke="#262626" stroke-width="0.1" transform="matrix(1 0 0 1.07 0 -25.094)">75</text>
<line x1="358.00" y1="341.14" x2="360.50" y2="341.14" stroke="#505050" stroke-width="1" />
<text x="354.80" y="343.74" font-size="7.2" text-anchor="end" fill="#262626" stroke="#262626" stroke-width="0.1" transform="matrix(1 0 0 1.07 0 -23.880)">100</text>
<line x1="358.00" y1="323.80" x2="360.50" y2="323.80" stroke="#505050" stroke-width="1" />
<text x="354.80" y="326.40" font-size="7.2" text-anchor="end" fill="#262626" stroke="#262626" stroke-width="0.1" transform="matrix(1 0 0 1.07 0 -22.667)">125</text>
<line x1="360.50" y1="410.50" x2="360.50" y2="413.00" stroke="#505050" stroke-width="0.8" />
<line x1="371.04" y1="410.50" x2="371.04" y2="412.10" stroke="#505050" stroke-width="0.8" />
<line x1="377.20" y1="410.50" x2="377.20" y2="412.10" stroke="#505050" stroke-width="0.8" />
<line x1="381.57" y1="410.50" x2="381.57" y2="412.10" stroke="#505050" stroke-width="0.8" />
<line x1="384.96" y1="410.50" x2="384.96" y2="412.10" stroke="#505050" stroke-width="0.8" />
<line x1="387.74" y1="410.50" x2="387.74" y2="412.10" stroke="#505050" stroke-width="0.8" />
<line x1="390.08" y1="410.50" x2="390.08" y2="412.10" stroke="#505050" stroke-width="0.8" />
<line x1="392.11" y1="410.50" x2="392.11" y2="412.10" stroke="#505050" stroke-width="0.8" />
<line x1="393.90" y1="410.50" x2="393.90" y2="412.10" stroke="#505050" stroke-width="0.8" />
<line x1="395.50" y1="410.50" x2="395.50" y2="413.00" stroke="#505050" stroke-width="0.8" />
<line x1="406.04" y1="410.50" x2="406.04" y2="412.10" stroke="#505050" stroke-width="0.8" />
<line x1="412.20" y1="410.50" x2="412.20" y2="412.10" stroke="#505050" stroke-width="0.8" />
<line x1="416.57" y1="410.50" x2="416.57" y2="412.10" stroke="#505050" stroke-width="0.8" />
<line x1="419.96" y1="410.50" x2="419.96" y2="412.10" stroke="#505050" stroke-width="0.8" />
<line x1="422.74" y1="410.50" x2="422.74" y2="412.10" stroke="#505050" stroke-width="0.8" />
<line x1="425.08" y1="410.50" x2="425.08" y2="412.10" stroke="#505050" stroke-width="0.8" />
<line x1="427.11" y1="410.50" x2="427.11" y2="412.10" stroke="#505050" stroke-width="0.8" />
<line x1="428.90" y1="410.50" x2="428.90" y2="412.10" stroke="#505050" stroke-width="0.8" />
<line x1="430.50" y1="410.50" x2="430.50" y2="413.00" stroke="#505050" stroke-width="0.8" />
<line x1="441.04" y1="410.50" x2="441.04" y2="412.10" stroke="#505050" stroke-width="0.8" />
<line x1="447.20" y1="410.50" x2="447.20" y2="412.10" stroke="#505050" stroke-width="0.8" />
<line x1="451.57" y1="410.50" x2="451.57" y2="412.10" stroke="#505050" stroke-width="0.8" />
<line x1="454.96" y1="410.50" x2="454.96" y2="412.10" stroke="#505050" stroke-width="0.8" />
<line x1="457.74" y1="410.50" x2="457.74" y2="412.10" stroke="#505050" stroke-width="0.8" />
<line x1="460.08" y1="410.50" x2="460.08" y2="412.10" stroke="#505050" stroke-width="0.8" />
<line x1="462.11" y1="410.50" x2="462.11" y2="412.10" stroke="#505050" stroke-width="0.8" />
<line x1="463.90" y1="410.50" x2="463.90" y2="412.10" stroke="#505050" stroke-width="0.8" />
<line x1="465.50" y1="410.50" x2="465.50" y2="413.00" stroke="#505050" stroke-width="0.8" />
<text x="359.60" y="422.70" font-size="7.5" text-anchor="middle" fill="#262626" stroke="#262626" stroke-width="0.1" transform="matrix(1 0 0 1.07 0 -29.400)">10</text>
<text x="392.60" y="422.70" font-size="7.5" text-anchor="middle" fill="#262626" stroke="#262626" stroke-width="0.1" transform="matrix(1 0 0 1.07 0 -29.400)">100</text>
<text x="425.90" y="422.70" font-size="7.5" text-anchor="middle" fill="#262626" stroke="#262626" stroke-width="0.1" transform="matrix(1 0 0 1.07 0 -29.400)">1,000</text>
<text x="459.00" y="422.70" font-size="7.5" text-anchor="middle" fill="#262626" stroke="#262626" stroke-width="0.1" transform="matrix(1 0 0 1.07 0 -29.400)">10,000</text>
<text x="412.00" y="437.50" font-size="8.2" font-weight="bold" text-anchor="middle" fill="#111" stroke="#111" stroke-width="0.15" transform="matrix(1 0 0 1.07 0 -30.418)">CHIR124, nmol/L</text>
<text x="335.90" y="369.30" font-size="8.2" font-weight="bold" text-anchor="middle" fill="#111" stroke="#111" stroke-width="0.15" transform="rotate(-90 335.90 369.30)">Survival, %</text>
<path d="M360.50,351.54 C364.00,354.32 374.63,363.68 381.50,368.19 C388.37,372.70 394.87,376.28 401.70,378.59 C408.53,380.91 415.62,380.44 422.50,382.06 C429.38,383.68 436.17,384.26 443.00,388.30 C449.83,392.35 460.08,403.33 463.50,406.34" fill="none" stroke="#eea060" stroke-width="1.3" stroke-dasharray="4,2.5" stroke-linejoin="round" />
<path d="M360.50,349.46 C364.00,352.35 374.63,362.41 381.50,366.80 C388.37,371.20 394.87,373.28 401.70,375.82 C408.53,378.36 415.62,378.25 422.50,382.06 C429.38,385.88 436.17,395.24 443.00,398.71 C449.83,402.18 460.08,402.18 463.50,402.87" fill="none" stroke="#4a56ac" stroke-width="1.5" stroke-dasharray="5,2.5" stroke-linejoin="round" />
<path d="M360.50,340.45 C364.00,341.60 374.63,345.42 381.50,347.38 C388.37,349.35 394.87,350.62 401.70,352.24 C408.53,353.86 415.62,354.67 422.50,357.09 C429.38,359.52 436.17,359.06 443.00,366.80 C449.83,374.55 460.08,397.44 463.50,403.56" fill="none" stroke="#a0344e" stroke-width="1.5" stroke-linejoin="round" />
<path d="M360.50,339.06 C364.00,340.79 374.63,346.69 381.50,349.46 C388.37,352.24 394.87,354.90 401.70,355.71 C408.53,356.51 415.62,350.50 422.50,354.32 C429.38,358.13 436.17,370.39 443.00,378.59 C449.83,386.80 460.08,399.40 463.50,403.56" fill="none" stroke="#88cc50" stroke-width="1.5" stroke-linejoin="round" />
<line x1="360.50" y1="334.20" x2="360.50" y2="342.53" stroke="#3a3a3a" stroke-width="0.9" />
<line x1="358.50" y1="334.20" x2="362.50" y2="334.20" stroke="#3a3a3a" stroke-width="0.9" />
<line x1="358.50" y1="342.53" x2="362.50" y2="342.53" stroke="#3a3a3a" stroke-width="0.9" />
<line x1="381.50" y1="343.91" x2="381.50" y2="350.85" stroke="#3a3a3a" stroke-width="0.9" />
<line x1="379.50" y1="343.91" x2="383.50" y2="343.91" stroke="#3a3a3a" stroke-width="0.9" />
<line x1="379.50" y1="350.85" x2="383.50" y2="350.85" stroke="#3a3a3a" stroke-width="0.9" />
<line x1="381.50" y1="364.72" x2="381.50" y2="368.88" stroke="#3a3a3a" stroke-width="0.9" />
<line x1="379.50" y1="364.72" x2="383.50" y2="364.72" stroke="#3a3a3a" stroke-width="0.9" />
<line x1="379.50" y1="368.88" x2="383.50" y2="368.88" stroke="#3a3a3a" stroke-width="0.9" />
<line x1="401.70" y1="349.46" x2="401.70" y2="356.40" stroke="#3a3a3a" stroke-width="0.9" />
<line x1="399.70" y1="349.46" x2="403.70" y2="349.46" stroke="#3a3a3a" stroke-width="0.9" />
<line x1="399.70" y1="356.40" x2="403.70" y2="356.40" stroke="#3a3a3a" stroke-width="0.9" />
<line x1="401.70" y1="374.43" x2="401.70" y2="379.98" stroke="#3a3a3a" stroke-width="0.9" />
<line x1="399.70" y1="374.43" x2="403.70" y2="374.43" stroke="#3a3a3a" stroke-width="0.9" />
<line x1="399.70" y1="379.98" x2="403.70" y2="379.98" stroke="#3a3a3a" stroke-width="0.9" />
<line x1="422.50" y1="351.54" x2="422.50" y2="357.09" stroke="#3a3a3a" stroke-width="0.9" />
<line x1="420.50" y1="351.54" x2="424.50" y2="351.54" stroke="#3a3a3a" stroke-width="0.9" />
<line x1="420.50" y1="357.09" x2="424.50" y2="357.09" stroke="#3a3a3a" stroke-width="0.9" />
<line x1="422.50" y1="379.29" x2="422.50" y2="384.14" stroke="#3a3a3a" stroke-width="0.9" />
<line x1="420.50" y1="379.29" x2="424.50" y2="379.29" stroke="#3a3a3a" stroke-width="0.9" />
<line x1="420.50" y1="384.14" x2="424.50" y2="384.14" stroke="#3a3a3a" stroke-width="0.9" />
<line x1="443.00" y1="364.72" x2="443.00" y2="368.88" stroke="#3a3a3a" stroke-width="0.9" />
<line x1="441.00" y1="364.72" x2="445.00" y2="364.72" stroke="#3a3a3a" stroke-width="0.9" />
<line x1="441.00" y1="368.88" x2="445.00" y2="368.88" stroke="#3a3a3a" stroke-width="0.9" />
<line x1="443.00" y1="385.53" x2="443.00" y2="391.77" stroke="#3a3a3a" stroke-width="0.9" />
<line x1="441.00" y1="385.53" x2="445.00" y2="385.53" stroke="#3a3a3a" stroke-width="0.9" />
<line x1="441.00" y1="391.77" x2="445.00" y2="391.77" stroke="#3a3a3a" stroke-width="0.9" />
<line x1="443.00" y1="397.32" x2="443.00" y2="400.10" stroke="#3a3a3a" stroke-width="0.9" />
<line x1="441.00" y1="397.32" x2="445.00" y2="397.32" stroke="#3a3a3a" stroke-width="0.9" />
<line x1="441.00" y1="400.10" x2="445.00" y2="400.10" stroke="#3a3a3a" stroke-width="0.9" />
<line x1="469.80" y1="345.90" x2="486.20" y2="345.90" stroke="#8e3a52" stroke-width="1.1" />
<text x="491.00" y="348.80" font-size="8" fill="#1c1c1c" stroke="#1c1c1c" stroke-width="0.3" transform="matrix(1 0 0 1.07 0 -24.214)">Calu-1</text>
<line x1="469.80" y1="358.60" x2="486.20" y2="358.60" stroke="#88cc58" stroke-width="1.1" />
<text x="491.00" y="361.50" font-size="8" fill="#1c1c1c" stroke="#1c1c1c" stroke-width="0.3" transform="matrix(1 0 0 1.07 0 -25.103)">H358</text>
<line x1="469.80" y1="371.00" x2="486.20" y2="371.00" stroke="#4a4f96" stroke-width="1.1" stroke-dasharray="3.6,2.6"/>
<text x="491.00" y="373.90" font-size="8" fill="#1c1c1c" stroke="#1c1c1c" stroke-width="0.3" transform="matrix(1 0 0 1.07 0 -25.971)">H2122</text>
<line x1="469.80" y1="383.20" x2="486.20" y2="383.20" stroke="#d8955c" stroke-width="1.1" stroke-dasharray="3.6,2.6"/>
<text x="491.00" y="386.10" font-size="8" fill="#1c1c1c" stroke="#1c1c1c" stroke-width="0.3" transform="matrix(1 0 0 1.07 0 -26.825)">A549</text>
<text x="23.15" y="489.00" font-size="8.3" fill="#1c1c1c" stroke="#1c1c1c" stroke-width="0.3" transform="rotate(-69.5 23.15 489.00)">sh<tspan font-style="italic">GFP</tspan></text>
<text x="44.40" y="489.00" font-size="8.3" fill="#1c1c1c" stroke="#1c1c1c" stroke-width="0.3" transform="rotate(-69.5 44.40 489.00)">sh<tspan font-style="italic">DTYMK-D8</tspan></text>
<text x="65.65" y="489.00" font-size="8.3" fill="#1c1c1c" stroke="#1c1c1c" stroke-width="0.3" transform="rotate(-69.5 65.65 489.00)">sh<tspan font-style="italic">DTYMK-D10</tspan></text>
<text x="86.90" y="489.00" font-size="8.3" fill="#1c1c1c" stroke="#1c1c1c" stroke-width="0.3" transform="rotate(-69.5 86.90 489.00)">sh<tspan font-style="italic">GFP</tspan></text>
<text x="108.15" y="489.00" font-size="8.3" fill="#1c1c1c" stroke="#1c1c1c" stroke-width="0.3" transform="rotate(-69.5 108.15 489.00)">sh<tspan font-style="italic">DTYMK-D8</tspan></text>
<text x="130.15" y="489.00" font-size="8.3" fill="#1c1c1c" stroke="#1c1c1c" stroke-width="0.3" transform="rotate(-69.5 130.15 489.00)">sh<tspan font-style="italic">DTYMK-D10</tspan></text>
<text x="148.15" y="489.00" font-size="8.3" fill="#1c1c1c" stroke="#1c1c1c" stroke-width="0.3" transform="rotate(-69.5 148.15 489.00)">sh<tspan font-style="italic">GFP</tspan></text>
<text x="165.65" y="489.00" font-size="8.3" fill="#1c1c1c" stroke="#1c1c1c" stroke-width="0.3" transform="rotate(-69.5 165.65 489.00)">sh<tspan font-style="italic">DTYMK-D8</tspan></text>
<text x="185.65" y="489.00" font-size="8.3" fill="#1c1c1c" stroke="#1c1c1c" stroke-width="0.3" transform="rotate(-69.5 185.65 489.00)">sh<tspan font-style="italic">DTYMK-D10</tspan></text>
<text x="203.15" y="489.00" font-size="8.3" fill="#1c1c1c" stroke="#1c1c1c" stroke-width="0.3" transform="rotate(-69.5 203.15 489.00)">sh<tspan font-style="italic">GFP</tspan></text>
<text x="226.90" y="489.00" font-size="8.3" fill="#1c1c1c" stroke="#1c1c1c" stroke-width="0.3" transform="rotate(-69.5 226.90 489.00)">sh<tspan font-style="italic">DTYMK-D8</tspan></text>
<text x="244.40" y="489.00" font-size="8.3" fill="#1c1c1c" stroke="#1c1c1c" stroke-width="0.3" transform="rotate(-69.5 244.40 489.00)">sh<tspan font-style="italic">DTYMK-D10</tspan></text>
<rect x="10.00" y="492.50" width="243.40" height="27.80" fill="#dbe1df" />
<rect x="10.00" y="523.20" width="245.00" height="26.80" fill="#e2e8e6" />
<rect x="10.50" y="500.20" width="18.50" height="5.60" rx="4.48" ry="2.80" fill="#050505" fill-opacity="1.0" filter="url(#b8)"/>
<rect x="34.50" y="502.90" width="13.50" height="2.80" rx="2.24" ry="1.40" fill="#2a2a2a" fill-opacity="0.85" filter="url(#b8)"/>
<rect x="54.50" y="504.10" width="14.00" height="2.40" rx="1.92" ry="1.20" fill="#3a3a3a" fill-opacity="0.7" filter="url(#b8)"/>
<rect x="73.50" y="502.50" width="18.00" height="7.00" rx="5.60" ry="3.50" fill="#030303" fill-opacity="1.0" filter="url(#b8)"/>
<rect x="95.00" y="504.30" width="14.00" height="3.40" rx="2.72" ry="1.70" fill="#151515" fill-opacity="0.95" filter="url(#b8)"/>
<rect x="116.00" y="505.40" width="14.00" height="2.40" rx="1.92" ry="1.20" fill="#555" fill-opacity="0.55" filter="url(#b8)"/>
<rect x="133.50" y="502.00" width="21.50" height="8.60" rx="6.88" ry="4.30" fill="#000" fill-opacity="1.0" filter="url(#b8)"/>
<rect x="154.50" y="504.40" width="15.50" height="3.80" rx="3.04" ry="1.90" fill="#0a0a0a" fill-opacity="0.95" filter="url(#b8)"/>
<rect x="176.00" y="504.60" width="13.50" height="2.80" rx="2.24" ry="1.40" fill="#1a1a1a" fill-opacity="0.85" filter="url(#b8)"/>
<rect x="193.80" y="502.80" width="17.50" height="5.60" rx="4.48" ry="2.80" fill="#030303" fill-opacity="1.0" filter="url(#b8)"/>
<rect x="215.50" y="504.20" width="12.00" height="2.60" rx="2.08" ry="1.30" fill="#2a2a2a" fill-opacity="0.75" filter="url(#b8)"/>
<rect x="235.00" y="504.00" width="13.50" height="2.00" rx="1.60" ry="1.00" fill="#666" fill-opacity="0.4" filter="url(#b8)"/>
<rect x="180.50" y="504.50" width="5.00" height="3.00" rx="2.40" ry="1.50" fill="#000" fill-opacity="0.8" filter="url(#b8)"/>
<rect x="10.15" y="532.60" width="20.00" height="5.60" rx="4.48" ry="2.80" fill="#060606" fill-opacity="1.0" filter="url(#b8)"/>
<rect x="30.45" y="532.60" width="20.00" height="5.60" rx="4.48" ry="2.80" fill="#060606" fill-opacity="1.0" filter="url(#b8)"/>
<rect x="50.75" y="532.60" width="20.00" height="5.60" rx="4.48" ry="2.80" fill="#060606" fill-opacity="1.0" filter="url(#b8)"/>
<rect x="71.05" y="532.60" width="20.00" height="5.60" rx="4.48" ry="2.80" fill="#060606" fill-opacity="1.0" filter="url(#b8)"/>
<rect x="91.35" y="532.60" width="20.00" height="5.60" rx="4.48" ry="2.80" fill="#060606" fill-opacity="1.0" filter="url(#b8)"/>
<rect x="111.65" y="532.60" width="20.00" height="5.60" rx="4.48" ry="2.80" fill="#060606" fill-opacity="1.0" filter="url(#b8)"/>
<rect x="131.95" y="532.60" width="20.00" height="5.60" rx="4.48" ry="2.80" fill="#060606" fill-opacity="1.0" filter="url(#b8)"/>
<rect x="152.25" y="532.60" width="20.00" height="5.60" rx="4.48" ry="2.80" fill="#060606" fill-opacity="1.0" filter="url(#b8)"/>
<rect x="172.55" y="532.60" width="20.00" height="5.60" rx="4.48" ry="2.80" fill="#060606" fill-opacity="1.0" filter="url(#b8)"/>
<rect x="192.85" y="532.60" width="20.00" height="5.60" rx="4.48" ry="2.80" fill="#060606" fill-opacity="1.0" filter="url(#b8)"/>
<rect x="213.15" y="532.60" width="20.00" height="5.60" rx="4.48" ry="2.80" fill="#060606" fill-opacity="1.0" filter="url(#b8)"/>
<rect x="233.45" y="532.60" width="21.50" height="5.60" rx="4.48" ry="2.80" fill="#060606" fill-opacity="1.0" filter="url(#b8)"/>
<text x="257.00" y="506.50" font-size="9.4" fill="#1c1c1c" stroke="#1c1c1c" stroke-width="0.3" transform="matrix(1 0 0 1.07 0 -35.218)">DTYMK</text>
<text x="257.00" y="539.20" font-size="9.4" fill="#1c1c1c" stroke="#1c1c1c" stroke-width="0.3" transform="matrix(1 0 0 1.07 0 -37.507)">β-Actin</text>
<path d="M10.5,550.5 V553.8 H68.7 V550.5" fill="none" stroke="#777" stroke-width="0.9"/>
<text x="39.80" y="565.30" font-size="9" text-anchor="middle" fill="#1c1c1c" stroke="#1c1c1c" stroke-width="0.3" transform="matrix(1 0 0 1.07 0 -39.344)">Calu-1</text>
<path d="M77.8,550.5 V553.8 H130.6 V550.5" fill="none" stroke="#777" stroke-width="0.9"/>
<text x="104.50" y="565.30" font-size="9" text-anchor="middle" fill="#1c1c1c" stroke="#1c1c1c" stroke-width="0.3" transform="matrix(1 0 0 1.07 0 -39.344)">H358</text>
<path d="M135.9,550.5 V553.8 H189.5 V550.5" fill="none" stroke="#777" stroke-width="0.9"/>
<text x="162.70" y="565.30" font-size="9" text-anchor="middle" fill="#1c1c1c" stroke="#1c1c1c" stroke-width="0.3" transform="matrix(1 0 0 1.07 0 -39.344)">A549</text>
<path d="M195.4,550.5 V553.8 H247.7 V550.5" fill="none" stroke="#777" stroke-width="0.9"/>
<text x="221.50" y="565.30" font-size="9" text-anchor="middle" fill="#1c1c1c" stroke="#1c1c1c" stroke-width="0.3" transform="matrix(1 0 0 1.07 0 -39.344)">H2122</text>
<rect x="324.5" y="472.5" width="191" height="84" fill="none" stroke="#5a5a5a" stroke-width="1"/>
<line x1="372.50" y1="472.50" x2="372.50" y2="556.50" stroke="#5a5a5a" stroke-width="1" />
<line x1="480.50" y1="472.50" x2="480.50" y2="556.50" stroke="#5a5a5a" stroke-width="1" />
<line x1="372.50" y1="485.50" x2="480.50" y2="485.50" stroke="#5a5a5a" stroke-width="1" />
<line x1="324.50" y1="501.50" x2="515.50" y2="501.50" stroke="#5a5a5a" stroke-width="1" />
<line x1="423.50" y1="485.50" x2="423.50" y2="556.50" stroke="#5a5a5a" stroke-width="1" />
<text x="346.70" y="485.30" font-size="8.2" font-weight="bold" text-anchor="middle" fill="#1c1c1c" stroke="#1c1c1c" stroke-width="0.15" transform="matrix(1 0 0 1.07 0 -33.764)">NSCLC</text>
<text x="346.90" y="495.60" font-size="8.2" font-weight="bold" text-anchor="middle" fill="#1c1c1c" stroke="#1c1c1c" stroke-width="0.15" transform="matrix(1 0 0 1.07 0 -34.485)">cell line</text>
<text x="426.30" y="482.90" font-size="8.4" font-weight="bold" text-anchor="middle" fill="#1c1c1c" stroke="#1c1c1c" stroke-width="0.15" transform="matrix(1 0 0 1.07 0 -33.591)">CHEK1 inhibitor</text>
<text x="398.80" y="497.00" font-size="7.1" font-weight="bold" text-anchor="middle" fill="#1c1c1c" stroke="#1c1c1c" stroke-width="0.15" transform="matrix(1 0 0 1.07 0 -34.611)">AZD7762</text>
<text x="451.80" y="497.00" font-size="7.1" font-weight="bold" text-anchor="middle" fill="#1c1c1c" stroke="#1c1c1c" stroke-width="0.15" transform="matrix(1 0 0 1.07 0 -34.611)">CHIR124</text>
<text x="497.00" y="491.30" font-size="9" font-weight="bold" text-anchor="middle" fill="#1c1c1c" stroke="#1c1c1c" stroke-width="0.15" transform="matrix(1 0 0 1.07 0 -34.164)">GI<tspan font-size="6.3" dy="2.2">50</tspan></text>
<text x="349.40" y="512.20" font-size="8.3" text-anchor="middle" fill="#262626" stroke="#262626" stroke-width="0.18" transform="matrix(1 0 0 1.07 0 -35.645)">Calu-1</text>
<text x="400.40" y="512.20" font-size="8.3" text-anchor="middle" fill="#262626" stroke="#262626" stroke-width="0.18" transform="matrix(1 0 0 1.07 0 -35.645)">1,500</text>
<text x="453.50" y="512.20" font-size="8.3" text-anchor="middle" fill="#262626" stroke="#262626" stroke-width="0.18" transform="matrix(1 0 0 1.07 0 -35.645)">3,800</text>
<text x="497.80" y="512.20" font-size="8.3" text-anchor="middle" fill="#262626" stroke="#262626" stroke-width="0.18" transform="matrix(1 0 0 1.07 0 -35.645)">nmol/L</text>
<text x="349.40" y="525.70" font-size="8.3" text-anchor="middle" fill="#262626" stroke="#262626" stroke-width="0.18" transform="matrix(1 0 0 1.07 0 -36.590)">H358</text>
<text x="400.40" y="525.70" font-size="8.3" text-anchor="middle" fill="#262626" stroke="#262626" stroke-width="0.18" transform="matrix(1 0 0 1.07 0 -36.590)">1,500</text>
<text x="453.50" y="525.70" font-size="8.3" text-anchor="middle" fill="#262626" stroke="#262626" stroke-width="0.18" transform="matrix(1 0 0 1.07 0 -36.590)">2,300</text>
<text x="497.80" y="525.70" font-size="8.3" text-anchor="middle" fill="#262626" stroke="#262626" stroke-width="0.18" transform="matrix(1 0 0 1.07 0 -36.590)">nmol/L</text>
<text x="349.40" y="539.50" font-size="8.3" text-anchor="middle" fill="#262626" stroke="#262626" stroke-width="0.18" transform="matrix(1 0 0 1.07 0 -37.556)">H2122</text>
<text x="400.40" y="539.50" font-size="8.3" text-anchor="middle" fill="#262626" stroke="#262626" stroke-width="0.18" transform="matrix(1 0 0 1.07 0 -37.556)">150</text>
<text x="453.50" y="539.50" font-size="8.3" text-anchor="middle" fill="#262626" stroke="#262626" stroke-width="0.18" transform="matrix(1 0 0 1.07 0 -37.556)">180</text>
<text x="497.80" y="539.50" font-size="8.3" text-anchor="middle" fill="#262626" stroke="#262626" stroke-width="0.18" transform="matrix(1 0 0 1.07 0 -37.556)">nmol/L</text>
<text x="349.40" y="553.00" font-size="8.3" text-anchor="middle" fill="#262626" stroke="#262626" stroke-width="0.18" transform="matrix(1 0 0 1.07 0 -38.501)">A549</text>
<text x="400.40" y="553.00" font-size="8.3" text-anchor="middle" fill="#262626" stroke="#262626" stroke-width="0.18" transform="matrix(1 0 0 1.07 0 -38.501)">90</text>
<text x="453.50" y="553.00" font-size="8.3" text-anchor="middle" fill="#262626" stroke="#262626" stroke-width="0.18" transform="matrix(1 0 0 1.07 0 -38.501)">100</text>
<text x="497.80" y="553.00" font-size="8.3" text-anchor="middle" fill="#262626" stroke="#262626" stroke-width="0.18" transform="matrix(1 0 0 1.07 0 -38.501)">nmol/L</text>
</svg>
</body></html>
